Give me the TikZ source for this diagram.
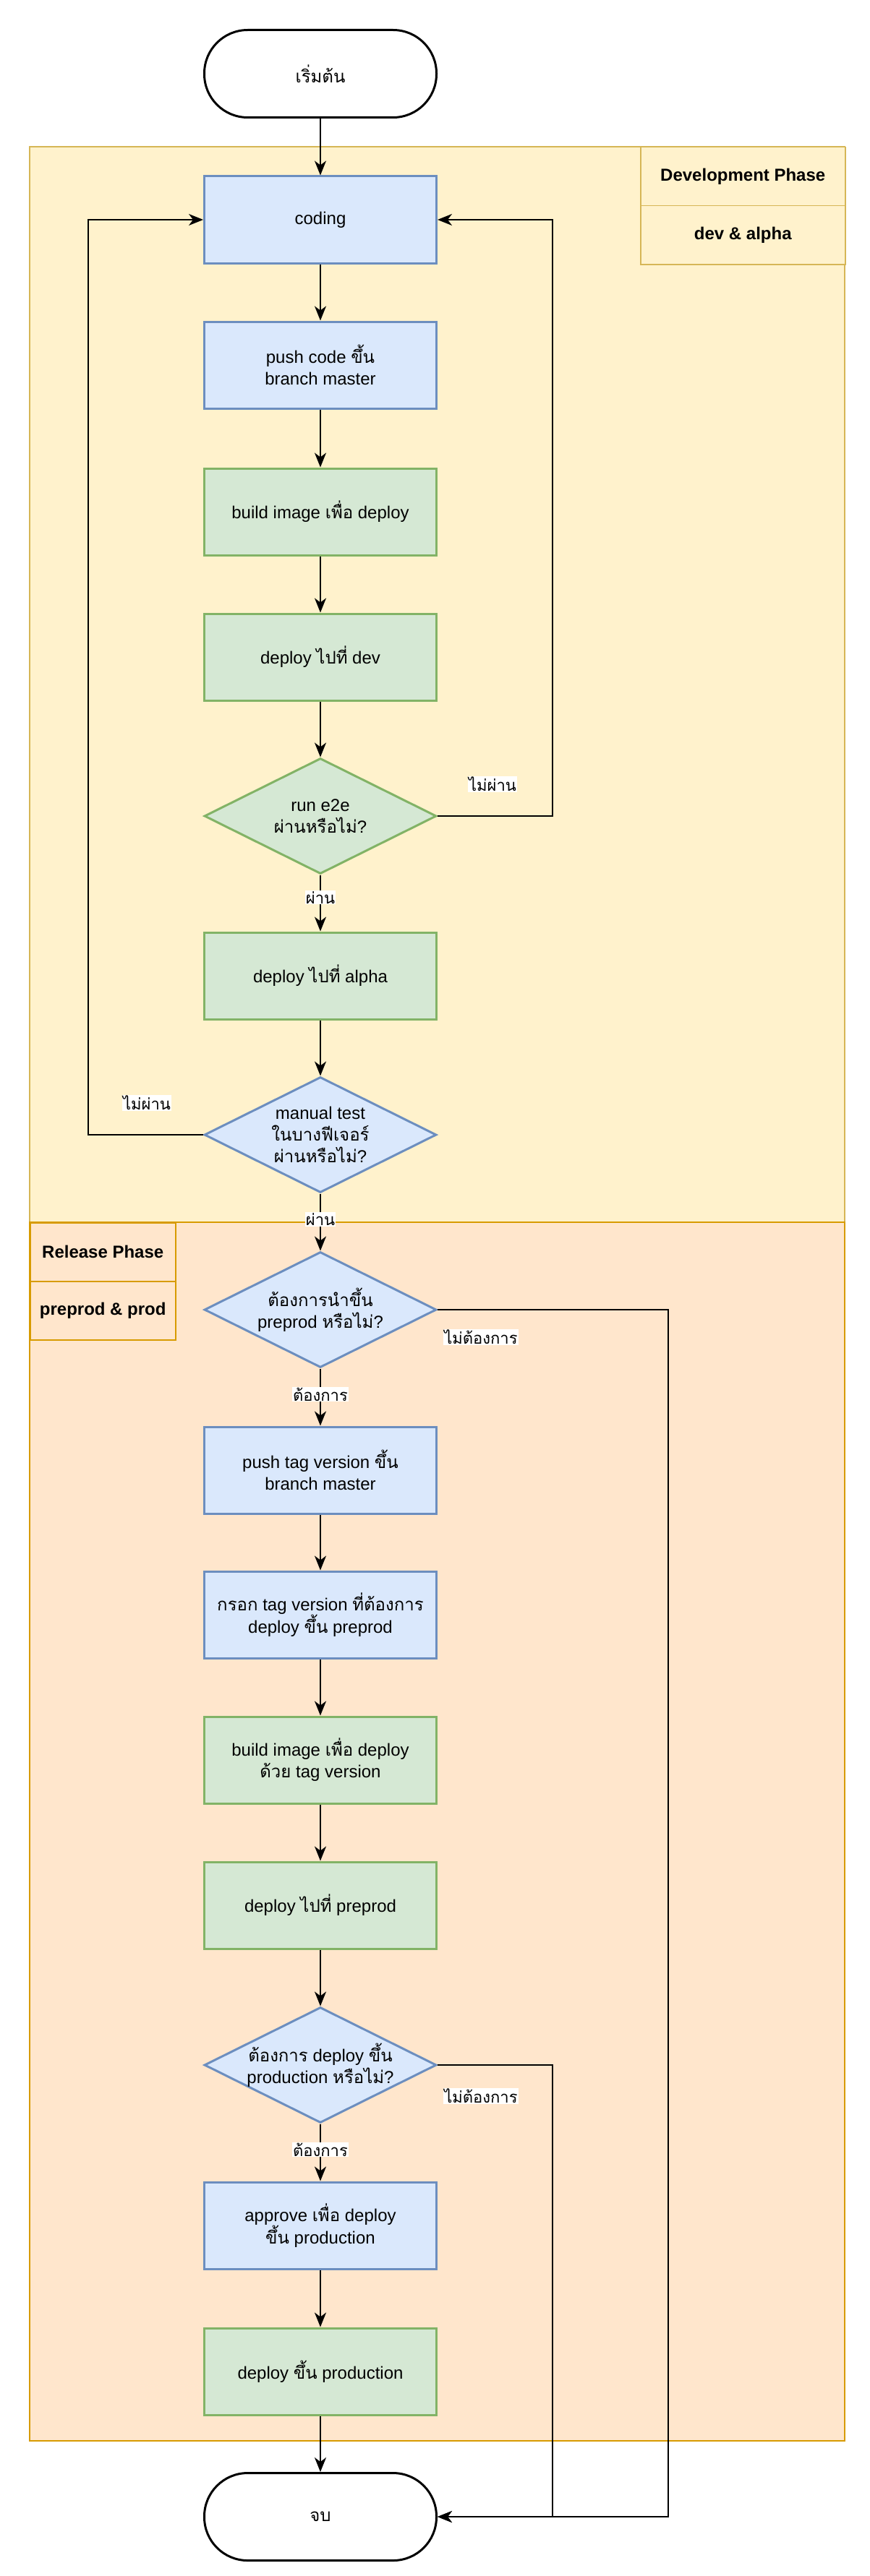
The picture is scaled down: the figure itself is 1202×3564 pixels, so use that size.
\documentclass[tikz,border=0pt]{standalone}
\usepackage{fontspec}
\setmainfont{Liberation Sans}
\newfontfamily\thaifont[Script=Thai]{Loma}
\newcommand{\tha}[1]{{\thaifont #1}}
\usetikzlibrary{shapes.geometric, arrows.meta}

\definecolor{bluefill}{HTML}{DAE8FC}
\definecolor{bluedraw}{HTML}{6C8EBF}
\definecolor{greenfill}{HTML}{D5E8D4}
\definecolor{greendraw}{HTML}{82B366}
\definecolor{devfill}{HTML}{FFF2CC}
\definecolor{devdraw}{HTML}{D6B656}
\definecolor{relfill}{HTML}{FFE6CC}
\definecolor{reldraw}{HTML}{D79B00}

\tikzset{
  every node/.style={font=\fontsize{24}{30}\selectfont},
  terminal/.style={draw=black, line width=3pt, fill=white, rounded corners=60pt, minimum width=321pt, minimum height=121pt},
  step/.style={draw=#1draw, fill=#1fill, line width=3pt, minimum width=321pt, minimum height=120pt, align=center},
  decide/.style={diamond, draw=#1draw, fill=#1fill, line width=3pt, inner sep=0pt, minimum width=321pt, minimum height=160pt, aspect=2},
  phase/.style={draw=#1draw, fill=#1fill, line width=1.5pt},
  tag/.style={draw=#1draw, fill=#1fill, line width=1.5pt, font=\fontsize{24}{30}\selectfont\bfseries, anchor=north west},
  flow/.style={line width=2pt, -{Stealth[length=20pt, width=16pt, inset=6pt]}},
  answer/.style={fill=white, inner sep=1pt, font=\fontsize{22}{26}\selectfont},
}

\begin{document}
\begin{tikzpicture}[x=1pt, y=-1pt]
\useasboundingbox (0, 0) rectangle (1202, 3564);

\fill[white] (0, 0) rectangle (1202, 3564);
\draw[phase=dev] (41, 203) rectangle (1168, 1691);
\draw[phase=rel] (41, 1691) rectangle (1168, 3377);
\node[tag=dev, minimum width=283pt, minimum height=81pt] (dev_title) at (885, 203) {Development Phase};
\node[tag=dev, minimum width=283pt, minimum height=81pt] (dev_env) at (885, 284) {dev \& alpha};
\node[tag=rel, minimum width=201pt, minimum height=81pt] (rel_title) at (41, 1691) {Release Phase};
\node[tag=rel, minimum width=201pt, minimum height=81pt] (rel_env) at (41, 1772) {preprod \& prod};

\node[terminal] (start) at (443, 102) {\tha{เริ่มต้น}};
\node[step=blue] (coding) at (443, 304) {coding};
\node[step=blue] (push_code) at (443, 505) {push code \tha{ขึ้น}\\branch master};
\node[step=green] (build_dev) at (443, 708) {build image \tha{เพื่อ} deploy};
\node[step=green] (deploy_dev) at (443, 909) {deploy \tha{ไปที่} dev};
\node[decide=green, label=center:{\parbox{300pt}{\centering run e2e\\\tha{ผ่านหรือไม่}?}}] (e2e_check) at (443, 1129) {};
\node[step=green] (deploy_alpha) at (443, 1350) {deploy \tha{ไปที่} alpha};
\node[decide=blue, label=center:{\parbox{300pt}{\centering manual test\\\tha{ในบางฟีเจอร์}\\\tha{ผ่านหรือไม่}?}}] (manual_check) at (443, 1570) {};
\node[decide=blue, label=center:{\parbox{300pt}{\centering \tha{ต้องการนำขึ้น}\\preprod \tha{หรือไม่}?}}] (preprod_check) at (443, 1812) {};
\node[step=blue] (push_tag) at (443, 2034) {push tag version \tha{ขึ้น}\\branch master};
\node[step=blue] (input_tag) at (443, 2234) {\tha{กรอก} tag version \tha{ที่ต้องการ}\\deploy \tha{ขึ้น} preprod};
\node[step=green] (build_tag) at (443, 2435) {build image \tha{เพื่อ} deploy\\\tha{ด้วย} tag version};
\node[step=green] (deploy_preprod) at (443, 2636) {deploy \tha{ไปที่} preprod};
\node[decide=blue, label=center:{\parbox{300pt}{\centering \tha{ต้องการ} deploy \tha{ขึ้น}\\production \tha{หรือไม่}?}}] (prod_check) at (443, 2857) {};
\node[step=blue] (approve) at (443, 3079) {approve \tha{เพื่อ} deploy\\\tha{ขึ้น} production};
\node[step=green] (deploy_prod) at (443, 3281) {deploy \tha{ขึ้น} production};
\node[terminal] (finish) at (443, 3482) {\tha{จบ}};

\draw[flow] (start) -- (coding);
\draw[flow] (coding) -- (push_code);
\draw[flow] (push_code) -- (build_dev);
\draw[flow] (build_dev) -- (deploy_dev);
\draw[flow] (deploy_dev) -- (e2e_check);
\draw[flow] (e2e_check) -- node[answer, pos=0.4] (e2e_yes) {\tha{ผ่าน}} (deploy_alpha);
\draw[flow] (e2e_check.east) -- (764, 1129) -- (764, 304) -- (coding.east);
\draw[flow] (deploy_alpha) -- (manual_check);
\draw[flow] (manual_check.west) -- (122, 1570) -- (122, 304) -- (coding.west);
\draw[flow] (manual_check) -- node[answer, pos=0.45] (manual_yes) {\tha{ผ่าน}} (preprod_check);
\draw[flow] (preprod_check) -- node[answer, pos=0.45] (preprod_yes) {\tha{ต้องการ}} (push_tag);
\draw[flow] (preprod_check.east) -- (924, 1812) -- (924, 3482) -- (finish.east);
\draw[flow] (push_tag) -- (input_tag);
\draw[flow] (input_tag) -- (build_tag);
\draw[flow] (build_tag) -- (deploy_preprod);
\draw[flow] (deploy_preprod) -- (prod_check);
\draw[flow] (prod_check) -- node[answer, pos=0.45] (prod_yes) {\tha{ต้องการ}} (approve);
\draw[flow] (prod_check.east) -- (764, 2857) -- (764, 3482) -- (finish.east);
\draw[flow] (approve) -- (deploy_prod);
\draw[flow] (deploy_prod) -- (finish);

\node[answer] (e2e_no) at (681, 1085) {\tha{ไม่ผ่าน}};
\node[answer] (manual_no) at (203, 1526) {\tha{ไม่ผ่าน}};
\node[answer] (preprod_no) at (665, 1850) {\tha{ไม่ต้องการ}};
\node[answer] (prod_no) at (665, 2900) {\tha{ไม่ต้องการ}};

\end{tikzpicture}
\end{document}
